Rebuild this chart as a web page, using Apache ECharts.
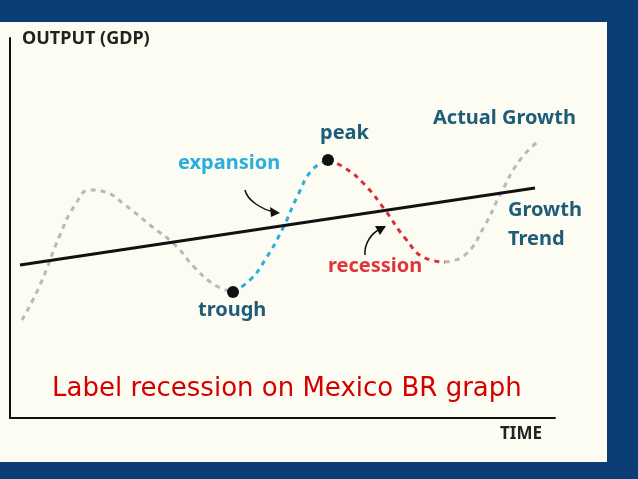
<!DOCTYPE html>
<html><head><meta charset="utf-8">
<script src="https://cdn.jsdelivr.net/npm/echarts@6/dist/echarts.min.js"></script>
<style>html,body{margin:0;padding:0;background:#0b3d76}#c{width:638px;height:479px}</style>
</head><body><div id="c"></div>
<script>
// data in pixel-like units: x = horizontal position, y = output level
const grayA = [[22,98],[40,133],[60,183],[75,213],[90,228],[105,226],[125,213],[150,193],[175,173],[195,150],[215,133],[233,126]];
const expansion = [[233,126],[250,138],[265,158],[282,188],[298,223],[312,248],[328,258]];
const recession = [[328,258],[345,250],[365,233],[385,208],[405,180],[425,160],[445,156]];
const grayB = [[445,156],[465,163],[485,193],[500,223],[520,258],[540,278]];
const trend = [[20,153],[535,230]];
const turningPoints = [[233,126],[328,258]];

const chart = echarts.init(document.getElementById('c'));
const lab = (x,y,t,c,size,font,weight)=>({type:'text',x:x,y:y,z:10,style:{text:t,fill:c,font:(weight||'bold')+' '+size+'px '+(font||'"Noto Sans"')}});
const dash = (d,c)=>({type:'line',data:d,smooth:true,symbol:'none',lineStyle:{color:c,width:3,type:[5,5]},z:3});
chart.setOption({
  backgroundColor:'#0b3d76',
  animation:false,
  grid:{left:10,right:83,top:38,bottom:61},
  xAxis:{type:'value',min:10,max:555,axisLine:{lineStyle:{color:'#111',width:2}},axisTick:{show:false},axisLabel:{show:false},splitLine:{show:false}},
  yAxis:{type:'value',min:0,max:380,axisLine:{show:true,lineStyle:{color:'#111',width:2}},axisTick:{show:false},axisLabel:{show:false},splitLine:{show:false}},
  graphic:[
    {type:'rect',shape:{x:0,y:22,width:607,height:440},style:{fill:'#fcfcf2'},z:-1},
    lab(22,30,'OUTPUT (GDP)','#222',18),
    lab(500,426,'TIME','#222',17),
    lab(433,108,'Actual Growth','#1f5c7a',20),
    lab(508,200,'Growth','#1f5c7a',20),
    lab(508,229,'Trend','#1f5c7a',20),
    lab(320,123,'peak','#1f5c7a',20),
    lab(198,300,'trough','#1f5c7a',20),
    lab(178,153,'expansion','#2aaede',20),
    lab(328,256,'recession','#e0343c',20),
    lab(52,376,'Label recession on Mexico BR graph','#d40000',26,'"DejaVu Sans"','normal'),
    {type:'bezierCurve',z:10,shape:{x1:245,y1:190,cpx1:247,cpy1:200,cpx2:262,cpy2:210,x2:275,y2:212},style:{stroke:'#111',lineWidth:1.5,fill:'none'}},
    {type:'polygon',z:10,shape:{points:[[280,213],[270,207],[271,217]]},style:{fill:'#111'}},
    {type:'bezierCurve',z:10,shape:{x1:365,y1:255,cpx1:364,cpy1:243,cpx2:372,cpy2:233,x2:380,y2:229},style:{stroke:'#111',lineWidth:1.5,fill:'none'}},
    {type:'polygon',z:10,shape:{points:[[386,226],[375,226],[380,235]]},style:{fill:'#111'}}
  ],
  series:[
    dash(grayA,'#b9b9b9'),
    dash(expansion,'#2aaede'),
    dash(recession,'#d8303a'),
    dash(grayB,'#b9b9b9'),
    {type:'line',data:trend,symbol:'none',lineStyle:{color:'#111',width:3},z:4},
    {type:'scatter',data:turningPoints,symbolSize:12,itemStyle:{color:'#111',opacity:1},z:5}
  ]
});
</script></body></html>
